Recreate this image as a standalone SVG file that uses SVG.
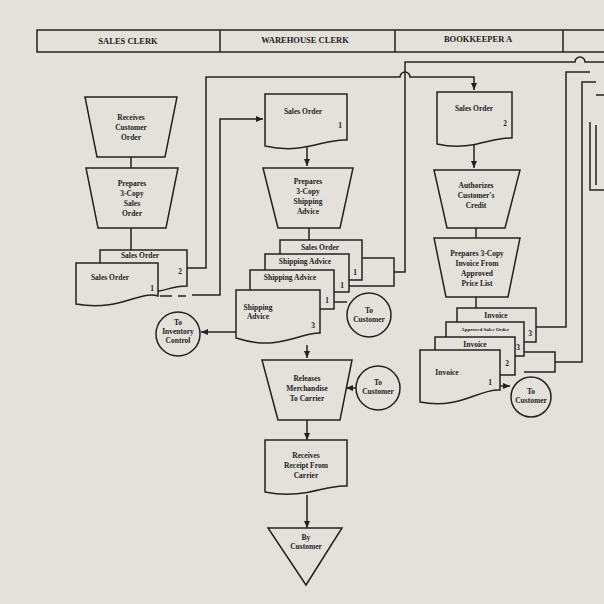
<svg xmlns="http://www.w3.org/2000/svg" width="604" height="604" viewBox="0 0 604 604">
<style>
.s{fill:none;stroke:#222;stroke-width:1.5}
.d{fill:#e4e1db;stroke:#222;stroke-width:1.5}
text{font-family:"Liberation Serif",serif;font-weight:bold;fill:#222;font-size:7.5px;text-anchor:middle}
.h{font-size:8.5px}
</style>
<defs><marker id="a" markerWidth="8" markerHeight="8" refX="7" refY="4" orient="auto" markerUnits="userSpaceOnUse"><path d="M0,1 L7,4 L0,7Z" fill="#222"/></marker></defs>
<rect width="604" height="604" fill="#e4e1db"/>
<g id="header">
<rect x="37" y="30" width="580" height="22" class="s"/>
<line x1="220" y1="30" x2="220" y2="52" class="s"/><line x1="395" y1="30" x2="395" y2="52" class="s"/><line x1="563" y1="30" x2="563" y2="52" class="s"/>
<text class="h" x="128" y="44">SALES CLERK</text><text class="h" x="305" y="43">WAREHOUSE CLERK</text><text class="h" x="478" y="42">BOOKKEEPER A</text>
</g>
<g id="connectors">
<path class="s" d="M187,268 H206 V77 H400 A5,5 0 0 1 410,77 H474 V90" marker-end="url(#a)"/>
<path class="s" d="M160,296 H172 M178,296 H186 M192,295 H220 V119 H263" marker-end="url(#a)"/>
<path class="s" d="M131,157 V168 M131,228 V250"/>
<path class="s" d="M307,147 V166" marker-end="url(#a)"/>
<path class="s" d="M309,228 V240"/>
<path class="s" d="M394,272 H405 V62 H575 A5,5 0 0 1 585,62 H604"/>
<path class="s" d="M362,258 H394 V286 H349"/>
<path class="s" d="M334,302 H347"/>
<path class="s" d="M236,332 H201" marker-end="url(#a)"/>
<path class="s" d="M307,345 V358" marker-end="url(#a)"/>
<path class="s" d="M356,388 H346" marker-end="url(#a)"/>
<path class="s" d="M307,420 V440" marker-end="url(#a)"/>
<path class="s" d="M307,495 V528" marker-end="url(#a)"/>
<path class="s" d="M474,145 V168" marker-end="url(#a)"/>
<path class="s" d="M476,228 V238 M476,297 V308"/>
<path class="s" d="M536,327 H566 V72 H590"/>
<path class="s" d="M515,352 H555 V372 H524 M555,362 H582 V82 H596"/>
<path class="s" d="M500,386 H510" marker-end="url(#a)"/>
<path class="s" d="M596,95 H604 M590,122 V190 H604 M596,125 V185"/>
</g>
<g id="n1"><path class="d" d="M85,97 H177 L165,157 H97 Z"/><text x="131" y="120">Receives</text><text x="131" y="130">Customer</text><text x="131" y="140">Order</text></g>
<g id="n2"><path class="d" d="M86,168 H178 L166,228 H98 Z"/><text x="132" y="186">Prepares</text><text x="132" y="196">3-Copy</text><text x="132" y="206">Sales</text><text x="132" y="216">Order</text></g>
<g id="n3"><path class="d" d="M100,250 H187 V286 C170,286 165,292 150,292 L100,292 Z"/><text x="140" y="258">Sales Order</text><text x="180" y="274">2</text></g>
<g id="n4"><path class="d" d="M76,263 H158 V296 C140,290 120,312 76,304 Z"/><text x="110" y="280">Sales Order</text><text x="152" y="291">1</text></g>
<g id="n5"><path class="d" d="M265,94 H347 V140 C325,138 305,155 265,146 Z"/><text x="303" y="114">Sales Order</text><text x="340" y="128">1</text></g>
<g id="n6"><path class="d" d="M263,168 H353 L340,228 H278 Z"/><text x="308" y="184">Prepares</text><text x="308" y="194">3-Copy</text><text x="308" y="204">Shipping</text><text x="308" y="214">Advice</text></g>
<g id="n7"><path class="d" d="M280,240 H362 V280 H280 Z"/><text x="320" y="250">Sales Order</text><text x="355" y="275">1</text></g>
<g id="n8"><path class="d" d="M265,254 H349 V292 H265 Z"/><text x="305" y="264">Shipping Advice</text><text x="342" y="288">1</text></g>
<g id="n9"><path class="d" d="M250,270 H334 V309 H250 Z"/><text x="290" y="280">Shipping Advice</text><text x="327" y="303">1</text></g>
<g id="n10"><path class="d" d="M236,290 H320 V333 C300,332 280,352 236,338 Z"/><text x="258" y="310">Shipping</text><text x="258" y="319">Advice</text><text x="313" y="328">3</text></g>
<g id="n11"><circle class="d" cx="369" cy="315" r="22"/><text x="369" y="313">To</text><text x="369" y="322">Customer</text></g>
<g id="n12"><circle class="d" cx="178" cy="334" r="22"/><text x="178" y="325">To</text><text x="178" y="334">Inventory</text><text x="178" y="343">Control</text></g>
<g id="n13"><path class="d" d="M262,360 H352 L340,420 H278 Z"/><text x="307" y="381">Releases</text><text x="307" y="391">Merchandise</text><text x="307" y="401">To Carrier</text></g>
<g id="n14"><circle class="d" cx="378" cy="388" r="22"/><text x="378" y="385">To</text><text x="378" y="394">Customer</text></g>
<g id="n15"><path class="d" d="M265,440 H347 V486 C325,484 305,500 265,492 Z"/><text x="306" y="458">Receives</text><text x="306" y="468">Receipt From</text><text x="306" y="478">Carrier</text></g>
<g id="n16"><path class="d" d="M268,528 H342 L306,585 Z"/><text x="306" y="540">By</text><text x="306" y="549">Customer</text></g>
<g id="n17"><path class="d" d="M437,92 H512 V138 C492,136 472,152 437,144 Z"/><text x="474" y="111">Sales Order</text><text x="505" y="126">2</text></g>
<g id="n18"><path class="d" d="M434,170 H520 L505,228 H447 Z"/><text x="476" y="188">Authorizes</text><text x="476" y="198">Customer's</text><text x="476" y="208">Credit</text></g>
<g id="n19"><path class="d" d="M434,238 H520 L508,297 H446 Z"/><text x="477" y="256">Prepares 3-Copy</text><text x="477" y="266">Invoice From</text><text x="477" y="276">Approved</text><text x="477" y="286">Price List</text></g>
<g id="n20"><path class="d" d="M457,308 H536 V342 H457 Z"/><text x="496" y="318">Invoice</text><text x="530" y="336">3</text></g>
<g id="n21"><path class="d" d="M446,322 H524 V356 H446 Z"/><text x="485" y="331" style="font-size:5px">Approved Sales Order</text><text x="518" y="350">3</text></g>
<g id="n22"><path class="d" d="M435,337 H515 V375 H435 Z"/><text x="475" y="347">Invoice</text><text x="507" y="366">2</text></g>
<g id="n23"><path class="d" d="M420,350 H500 V390 C480,388 460,410 420,402 Z"/><text x="447" y="375">Invoice</text><text x="490" y="385">1</text></g>
<g id="n24"><circle class="d" cx="531" cy="397" r="20"/><text x="531" y="394">To</text><text x="531" y="403">Customer</text></g>
</svg>
